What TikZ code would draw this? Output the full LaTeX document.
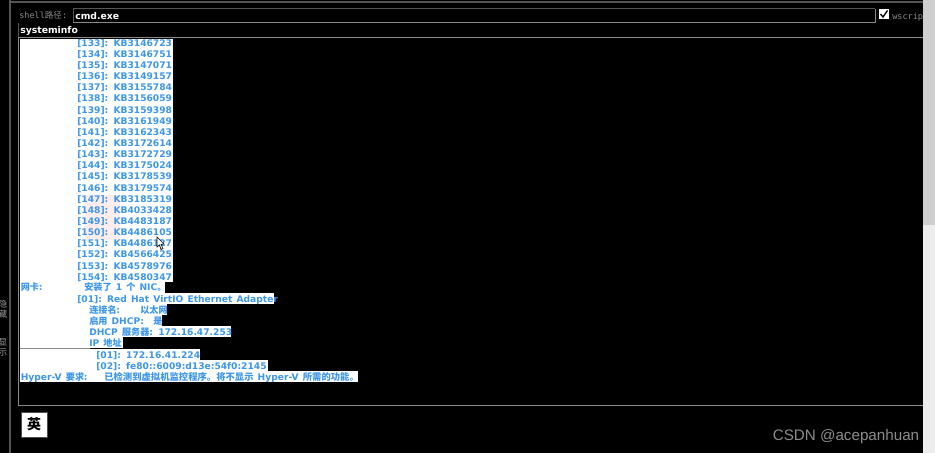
\documentclass[tikz,border=0pt]{standalone}
\usepackage{fontspec}
\setmonofont{DejaVu Sans Mono}
\setsansfont{Liberation Sans}
\newfontfamily\rowfont{DejaVu Sans}[WordSpace=1.3]
\newfontfamily\cjk{Noto Sans CJK SC}
\definecolor{rowblue}{HTML}{3C96EB}
\definecolor{frameline}{HTML}{8A8A8A}
\definecolor{darkline}{HTML}{555555}
\tikzset{
	rowtext/.style={anchor=base west,inner sep=0pt,text=rowblue,font=\rowfont\bfseries\fontsize{6.85}{9}\selectfont},
	cmdtext/.style={anchor=base west,inner sep=0pt,text=white,font=\rowfont\bfseries\fontsize{6.95}{9}\selectfont},
	formtext/.style={anchor=base west,inner sep=0pt,text=frameline,font=\ttfamily\fontsize{6.4}{7}\selectfont},
	frame/.style={draw=frameline,line width=.75pt},
	darkframe/.style={draw=darkline,line width=1.5pt},
}
\begin{document}
\begin{tikzpicture}[x=.75pt,y=-.75pt]
	\useasboundingbox (0,0) rectangle (935,453);
	\fill [black] (0,0) rectangle (923,453);
	\fill [black!19] (923,0) rectangle (935,225);
	\fill [black!7] (923,225) rectangle (935,453);
	% white behind the rows
	\fill [white] (20,39) rectangle (173,282);
	\foreach \top/\bot/\right in {282/293/165,293/304/274,304/315/167,315/326/162,326/337/231,337/348/123,349/360/200,360/371/268,371/382/358}
		\fill [white] (20,\top) rectangle (\right,\bot);
	\fill [red!7] (85,195) rectangle (120,240);
	% hot fix list
	\foreach \kb [count=\i from 0] in {3146723,3146751,3147071,3149157,3155784,3156059,3159398,3161949,3162343,3172614,3172729,3175024,3178539,3179574,3185319,4033428,4483187,4486105,4486127,4566425,4578976,4580347}{
		\pgfmathsetmacro{\rowy}{46.2+11.14*\i}
		\pgfmathtruncatemacro{\num}{133+\i}
		\node [rowtext] (kb\num) at (77,\rowy) {[\num]: KB\kb};
	}
	% network rows
	\node [rowtext] (nic) at (20.5,290.5) {\cjk\bfseries 网卡:};
	\node [rowtext] (nicnum) at (84,290.5) {{\cjk\bfseries 安装了} 1 {\cjk\bfseries 个} NIC{\cjk\bfseries 。}};
	\node [rowtext] (adapter) at (77,302) {[01]: Red Hat VirtIO Ethernet Adapter};
	\node [rowtext] (conn) at (89,313) {\cjk\bfseries 连接名:};
	\node [rowtext] (connval) at (140,313) {\cjk\bfseries 以太网};
	\node [rowtext] (dhcp) at (89,324) {{\cjk\bfseries 启用} DHCP:};
	\node [rowtext] (dhcpval) at (153,324) {\cjk\bfseries 是};
	\node [rowtext] (server) at (89,335.5) {DHCP {\cjk\bfseries 服务器}: 172.16.47.253};
	\node [rowtext] (ipaddr) at (89,346.5) {IP {\cjk\bfseries 地址}};
	\node [rowtext] (ipone) at (96,358) {[01]: 172.16.41.224};
	\node [rowtext] (iptwo) at (96,369) {[02]: fe80::6009:d13e:54f0:2145};
	\node [rowtext] (hyperv) at (20.5,380) {Hyper-V {\cjk\bfseries 要求:}};
	\node [rowtext] (hypervval) at (104,380) {{\cjk\bfseries\fontsize{7}{9}\selectfont 已检测到虚拟机监控程序。将不显示} Hyper-V {\cjk\bfseries\fontsize{7}{9}\selectfont 所需的功能。}};
	\draw [frameline,line width=.75pt] (20,348.5) -- (90,348.5);
	% header over the cut row
	\fill [black] (11,3) rectangle (923,39);
	\draw [darkframe] (10,0) -- (10,453);
	\draw [darkframe] (10,2) -- (923,2);
	\draw [draw=darkline,line width=.75pt] (73,23) -- (73,9) -- (875,9);
	\draw [frame] (73,23) -- (875,23) -- (875,9);
	\draw [frame] (18,37) -- (18,405) -- (923,405);
	\draw [frame] (18,37.5) -- (923,37.5);
	\draw [draw=darkline,line width=.75pt] (18,23) -- (18,37);
	\node [formtext] (shell) at (19,19) {shell{\cjk 路径}:};
	\node [cmdtext] (cmd) at (75,20) {cmd.exe};
	\node [cmdtext] (sysinfo) at (20,34) {systeminfo};
	% checkbox
	\fill [white] (879,9) rectangle (889,19);
	\draw [black,line width=1pt] (880.5,14) -- (883,17) -- (887.5,10.5);
	\node [formtext] (wscrip) at (892,19.5) {wscrip};
	% language button
	\node [rectangle,draw=black!70,fill=white,minimum width=19.5pt,minimum height=19pt,inner sep=0pt,font=\cjk\bfseries\fontsize{10.5}{11}\selectfont] (lang) at (34,424.5) {英};
	% side labels
	\node [inner sep=0pt,text=black!40,align=center,font=\cjk\fontsize{6.5}{7.5}\selectfont] (hide) at (3,309) {隐\\藏};
	\node [inner sep=0pt,text=black!40,align=center,font=\cjk\fontsize{6.5}{7.5}\selectfont] (show) at (3,347) {显\\示};
	\node [anchor=base east,inner sep=0pt,text=black!45,font=\sffamily\fontsize{11.4}{13}\selectfont] (mark) at (919.5,440) {CSDN @acepanhuan};
	% mouse pointer
	\draw [fill=white,draw=black,line width=.5pt] (157,237) -- (157,247) -- (159.5,245) -- (161,249.5) -- (163,248.5) -- (161,244.5) -- (164,244) -- cycle;
\end{tikzpicture}
\end{document}
